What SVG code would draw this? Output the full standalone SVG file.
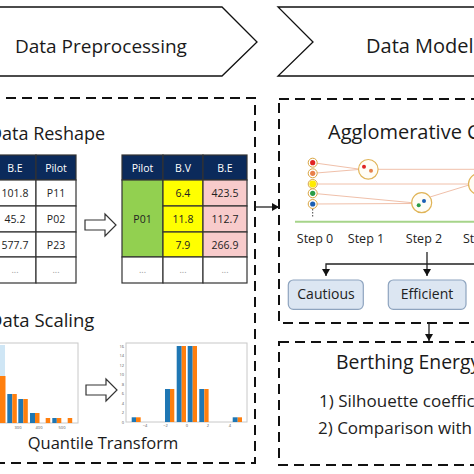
<svg xmlns="http://www.w3.org/2000/svg" width="474" height="474" viewBox="0 0 474 474">
<style>
text{font-family:"Open Sans","Noto Sans",sans-serif;fill:#1a1a1a}
.chev{fill:#fff;stroke:#111;stroke-width:1.3}
.panel{fill:none;stroke:#111;stroke-width:2;stroke-dasharray:10 6}
.title{font-size:19px}
.cell{stroke:#333;stroke-width:1.2}
.hd{fill:#0b2a5b}
.wh{fill:#fff}
.gr{fill:#92d050}
.ye{fill:#ffff00}
.pk{fill:#f8cbcb}
.th{font-size:10.5px;fill:#fff;text-anchor:middle}
.td{font-size:10.5px;text-anchor:middle;fill:#222}
.dots{font-size:9px;text-anchor:middle;fill:#999}
.hollow{fill:#fff;stroke:#333;stroke-width:1.2}
.frame{fill:#fff;stroke:#c8c8c8;stroke-width:1}
.b{fill:#1f77b4}
.o{fill:#ff7f0e}
.tick{font-size:4px;fill:#555;text-anchor:middle}
.ytick{font-size:4px;fill:#555;text-anchor:end}
.link{stroke:#f0c0aa;stroke-width:1;fill:none}
.ring{fill:#fff;stroke:#d9a441;stroke-width:1}
.clu{fill:#fffdf6;stroke:#e0b458;stroke-width:1.2}
.step{font-size:12.5px;fill:#222}
.conn{stroke:#222;stroke-width:1.3;fill:none}
.box{fill:#dce6f2;stroke:#8ea4bf;stroke-width:1.2}
.bt{font-size:14px;text-anchor:middle;fill:#222}
.li{font-size:17px;fill:#222}
</style>
<defs>
<marker id="ah" markerWidth="7" markerHeight="8" refX="7" refY="4" orient="auto" markerUnits="userSpaceOnUse">
<path d="M0,0 L7,4 L0,8 z" fill="#111"/>
</marker>
</defs>
<rect width="474" height="474" fill="#fff"/>

<g id="stage-preprocessing">
<polygon class="chev" points="-5,7 222,7 257,42 222,76 -5,76"/>
<text class="title" x="15" y="53">Data Preprocessing</text>
</g>
<g id="stage-modeling">
<polygon class="chev" points="278,7 490,7 490,76 278,76 313,42"/>
<text x="366" y="53" style="font-size:20px">Data Modeling</text>
</g>

<g id="panel-preprocessing">
<rect class="panel" x="-10" y="98" width="265" height="365"/>
<text x="-11" y="140" style="font-size:18px">Data Reshape</text>
</g>

<g id="table-original">
<rect class="cell hd" x="-6" y="155" width="42" height="25"/>
<rect class="cell hd" x="36" y="155" width="40" height="25"/>
<rect class="cell wh" x="-6" y="180" width="42" height="26"/>
<rect class="cell wh" x="36" y="180" width="40" height="26"/>
<rect class="cell wh" x="-6" y="206" width="42" height="26"/>
<rect class="cell wh" x="36" y="206" width="40" height="26"/>
<rect class="cell wh" x="-6" y="232" width="42" height="25"/>
<rect class="cell wh" x="36" y="232" width="40" height="25"/>
<rect class="cell wh" x="-6" y="257" width="42" height="26"/>
<rect class="cell wh" x="36" y="257" width="40" height="26"/>
<text class="th" x="15" y="171.5">B.E</text>
<text class="th" x="56" y="171.5">Pilot</text>
<text class="td" x="15" y="197">101.8</text>
<text class="td" x="56" y="197">P11</text>
<text class="td" x="15" y="223">45.2</text>
<text class="td" x="56" y="223">P02</text>
<text class="td" x="15" y="248.5">577.7</text>
<text class="td" x="56" y="248.5">P23</text>
<text class="dots" x="15" y="273">...</text>
<text class="dots" x="56" y="273">...</text>
</g>

<g id="arrow-reshape">
<polygon class="hollow" points="85,220 105,220 105,214 116,225 105,236 105,230 85,230"/>
</g>

<g id="table-reshaped">
<rect class="cell hd" x="122" y="155" width="41" height="25"/>
<rect class="cell hd" x="163" y="155" width="40" height="25"/>
<rect class="cell hd" x="203" y="155" width="44" height="25"/>
<rect class="cell gr" x="122" y="180" width="41" height="77"/>
<rect class="cell ye" x="163" y="180" width="40" height="26"/>
<rect class="cell ye" x="163" y="206" width="40" height="26"/>
<rect class="cell ye" x="163" y="232" width="40" height="25"/>
<rect class="cell pk" x="203" y="180" width="44" height="26"/>
<rect class="cell pk" x="203" y="206" width="44" height="26"/>
<rect class="cell pk" x="203" y="232" width="44" height="25"/>
<rect class="cell wh" x="122" y="257" width="41" height="26"/>
<rect class="cell wh" x="163" y="257" width="40" height="26"/>
<rect class="cell wh" x="203" y="257" width="44" height="26"/>
<text class="th" x="142.5" y="171.5">Pilot</text>
<text class="th" x="183" y="171.5">B.V</text>
<text class="th" x="225" y="171.5">B.E</text>
<text class="td" x="142.5" y="222.5">P01</text>
<text class="td" x="183" y="197">6.4</text>
<text class="td" x="225" y="197">423.5</text>
<text class="td" x="183" y="223">11.8</text>
<text class="td" x="225" y="223">112.7</text>
<text class="td" x="183" y="248.5">7.9</text>
<text class="td" x="225" y="248.5">266.9</text>
<text class="dots" x="142.5" y="273">...</text>
<text class="dots" x="183" y="273">...</text>
<text class="dots" x="225" y="273">...</text>
</g>

<g id="scaling-title">
<text x="-11" y="327" style="font-size:18.5px">Data Scaling</text>
</g>

<g id="hist-original">
<rect class="frame" x="-5" y="343" width="83" height="80"/>
<rect x="0" y="345" width="5" height="31" fill="#cfe6f5"/>
<rect class="o" x="0" y="376" width="5.5" height="47"/>
<rect class="b" x="7.3" y="394" width="5" height="29"/>
<rect class="o" x="12.3" y="394" width="4.5" height="29"/>
<rect class="b" x="18.3" y="399" width="5" height="24"/>
<rect class="o" x="23.3" y="399" width="4.5" height="24"/>
<rect class="b" x="30" y="413" width="5" height="10"/>
<rect class="o" x="35" y="413" width="4.5" height="10"/>
<rect class="o" x="45.7" y="418" width="4.5" height="5"/>
<rect class="b" x="52.3" y="418" width="4.5" height="5"/>
<rect class="o" x="56.8" y="418" width="4.5" height="5"/>
<rect class="o" x="67.7" y="418" width="4.5" height="5"/>
<text class="tick" x="18" y="428.5">300</text>
<text class="tick" x="39" y="428.5">400</text>
<text class="tick" x="62" y="428.5">500</text>
</g>

<g id="arrow-scaling">
<polygon class="hollow" points="86,385 106,385 106,379 117,390 106,401 106,395 86,395"/>
</g>

<g id="hist-transformed">
<rect class="frame" x="126" y="343" width="121" height="79"/>
<rect class="b" x="131.7" y="417.3" width="4.3" height="4.7"/>
<rect class="o" x="136" y="417.3" width="4.7" height="4.7"/>
<rect class="b" x="165" y="389" width="5" height="33"/>
<rect class="o" x="170" y="389" width="4.3" height="33"/>
<rect class="b" x="176.7" y="346" width="5" height="76"/>
<rect class="o" x="181.7" y="346" width="4.3" height="76"/>
<rect class="b" x="187.7" y="346" width="5" height="76"/>
<rect class="o" x="192.7" y="346" width="4.3" height="76"/>
<rect class="b" x="199.3" y="389" width="5" height="33"/>
<rect class="o" x="204.3" y="389" width="4.3" height="33"/>
<rect class="b" x="232.7" y="417.3" width="5" height="4.7"/>
<rect class="o" x="237.7" y="417.3" width="4.3" height="4.7"/>
<text class="ytick" x="124" y="347.5">16</text>
<text class="ytick" x="124" y="357">14</text>
<text class="ytick" x="124" y="366.5">12</text>
<text class="ytick" x="124" y="376">10</text>
<text class="ytick" x="124" y="385.5">8</text>
<text class="ytick" x="124" y="395">6</text>
<text class="ytick" x="124" y="404.5">4</text>
<text class="ytick" x="124" y="414">2</text>
<text class="ytick" x="124" y="423.5">0</text>
<text class="tick" x="145" y="427">−4</text>
<text class="tick" x="165.5" y="427">−2</text>
<text class="tick" x="187" y="427">0</text>
<text class="tick" x="208" y="427">2</text>
<text class="tick" x="230" y="427">4</text>
</g>
<g id="quantile-label">
<text x="103" y="449" text-anchor="middle" style="font-size:16.5px">Quantile Transform</text>
</g>

<g id="panel-clustering">
<rect class="panel" x="279" y="99" width="215" height="224"/>
<text x="328" y="139" style="font-size:20px">Agglomerative Clustering</text>
</g>

<g id="dendrogram">
<line x1="295" y1="221.7" x2="480" y2="221.7" stroke="#a6d48a" stroke-width="2"/>
<line class="link" x1="312.7" y1="162.7" x2="358.5" y2="169"/>
<line class="link" x1="312.7" y1="173.3" x2="358.5" y2="169.5"/>
<line class="link" x1="378" y1="169.3" x2="480" y2="169.3"/>
<line class="link" x1="312.7" y1="184" x2="468" y2="184"/>
<line class="link" x1="312.7" y1="193.3" x2="412" y2="202.7"/>
<line class="link" x1="312.7" y1="204" x2="412" y2="203.5"/>
<line class="link" x1="430" y1="197" x2="469" y2="185"/>
<line x1="312.7" y1="209" x2="312.7" y2="217" stroke="#444" stroke-width="1" stroke-dasharray="1.5 1.5"/>
<circle class="ring" cx="312.7" cy="162.7" r="4.5"/><circle cx="312.7" cy="162.7" r="2.6" fill="#e02424"/>
<circle class="ring" cx="312.7" cy="173.3" r="4.5"/><circle cx="312.7" cy="173.3" r="2.6" fill="#e8804a"/>
<circle class="ring" cx="312.7" cy="184" r="4.5"/><circle cx="312.7" cy="184" r="3.4" fill="#ffec00"/>
<circle class="ring" cx="312.7" cy="193.3" r="4.5"/><circle cx="312.7" cy="193.3" r="2.6" fill="#2a9d48"/>
<circle class="ring" cx="312.7" cy="204" r="4.5"/><circle cx="312.7" cy="204" r="2.6" fill="#1a5fb4"/>
<circle class="clu" cx="368.3" cy="169.3" r="9.8"/>
<circle cx="364" cy="166.7" r="2" fill="#e02424"/>
<circle cx="371" cy="170.7" r="2" fill="#e8804a"/>
<circle class="clu" cx="421.7" cy="202.7" r="10"/>
<circle cx="418.7" cy="205.3" r="2" fill="#2a9d48"/>
<circle cx="424" cy="201" r="2" fill="#1a5fb4"/>
<circle class="clu" cx="479" cy="184" r="10.5"/>
<text class="step" x="315" y="243" text-anchor="middle">Step 0</text>
<text class="step" x="366" y="243" text-anchor="middle">Step 1</text>
<text class="step" x="424" y="243" text-anchor="middle">Step 2</text>
<text class="step" x="463" y="243">Step 3</text>
</g>

<g id="node-cautious">
<rect class="box" x="288.3" y="280" width="75" height="29.3" rx="5"/>
<text class="bt" x="326" y="299">Cautious</text>
</g>
<g id="node-efficient">
<rect class="box" x="388.3" y="280" width="77.7" height="29.3" rx="5"/>
<text class="bt" x="427" y="299">Efficient</text>
</g>

<g id="panel-evaluation">
<rect class="panel" x="279" y="342" width="215" height="123"/>
<text x="336" y="369" style="font-size:19.4px">Berthing Energy</text>
<text class="li" x="319" y="407">1) Silhouette coefficient</text>
<text class="li" x="318" y="434">2) Comparison with</text>
</g>

<g id="connectors">
<line class="conn" x1="255" y1="207" x2="279" y2="207" marker-end="url(#ah)"/>
<line class="conn" x1="427" y1="252" x2="427" y2="276" marker-end="url(#ah)"/>
<polyline class="conn" points="480,264 326,264 326,276" marker-end="url(#ah)"/>
<line class="conn" x1="429" y1="323" x2="429" y2="341" marker-end="url(#ah)"/>
</g>
</svg>
